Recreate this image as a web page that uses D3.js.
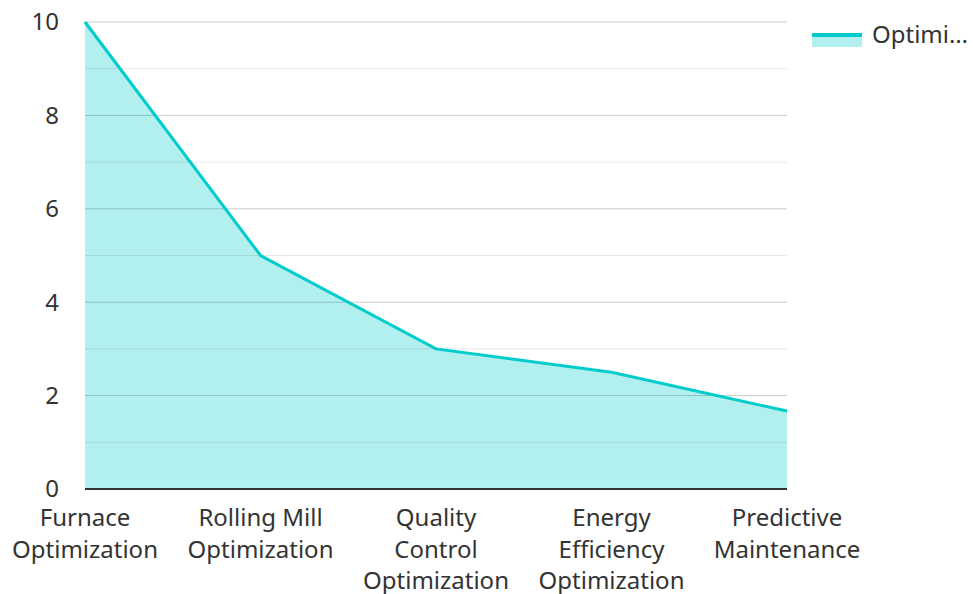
<!DOCTYPE html>
<html>
<head>
<meta charset="utf-8">
<script src="https://cdn.jsdelivr.net/npm/d3@7"></script>
<style>
  body { margin: 0; background: #fff; }
  text { font-family: "Noto Sans", "Open Sans", sans-serif; fill: #333; }
</style>
</head>
<body>
<div id="chart"></div>
<script>
// data
const categories = [
  "Furnace Optimization",
  "Rolling Mill Optimization",
  "Quality Control Optimization",
  "Energy Efficiency Optimization",
  "Predictive Maintenance"
];
const labelLines = [
  ["Furnace", "Optimization"],
  ["Rolling Mill", "Optimization"],
  ["Quality", "Control", "Optimization"],
  ["Energy", "Efficiency", "Optimization"],
  ["Predictive", "Maintenance"]
];
const values = [10, 5, 3, 2.5, 1.67];
const yTicks = [0, 2, 4, 6, 8, 10];
const seriesName = "Optimi…";

const W = 973, H = 594;
const margin = { top: 22, right: 186, bottom: 105, left: 85 };
const width = W - margin.left - margin.right,
  height = H - margin.top - margin.bottom;

const svg = d3.select("#chart")
  .append("svg")
  .attr("width", W)
  .attr("height", H)
  .append("g")
  .attr("transform", `translate(${margin.left},${margin.top})`);

const x = d3.scalePoint()
  .domain(categories)
  .range([0, width]);

const y = d3.scaleLinear()
  .domain([0, 10])
  .range([height, 0]);

const data = categories.map((c, i) => ({ cat: c, v: values[i] }));

// area + line
svg.append("path")
  .datum(data)
  .attr("fill", "rgba(0,204,204,0.3)")
  .attr("d", d3.area()
    .x(d => x(d.cat))
    .y0(y(0))
    .y1(d => y(d.v)));

// grid (drawn over the fill)
svg.append("g")
  .selectAll("line")
  .data(d3.range(1, 11))
  .enter()
  .append("line")
  .attr("x1", 0)
  .attr("x2", width)
  .attr("y1", d => y(d))
  .attr("y2", d => y(d))
  .attr("stroke", d => d % 2 === 0 ? "rgba(0,0,0,0.2)" : "rgba(0,0,0,0.09)")
  .attr("stroke-width", 1);

svg.append("path")
  .datum(data)
  .attr("fill", "none")
  .attr("stroke", "#00cccc")
  .attr("stroke-width", 3)
  .attr("d", d3.line()
    .x(d => x(d.cat))
    .y(d => y(d.v)));

// y axis labels
svg.append("g")
  .selectAll("text")
  .data(yTicks)
  .enter()
  .append("text")
  .attr("x", -26)
  .attr("y", d => y(d))
  .attr("dy", "0.35em")
  .attr("text-anchor", "end")
  .attr("font-size", "24px")
  .text(d => d);

// x axis line
svg.append("line")
  .attr("x1", 0)
  .attr("x2", width)
  .attr("y1", height)
  .attr("y2", height)
  .attr("stroke", "#333")
  .attr("stroke-width", 2);

// x labels
const xl = svg.append("g")
  .selectAll("text")
  .data(categories)
  .enter()
  .append("text")
  .attr("text-anchor", "middle")
  .attr("font-size", "24px")
  .attr("transform", d => `translate(${x(d)},${height + 37})`);

xl.selectAll("tspan")
  .data((d, i) => labelLines[i])
  .enter()
  .append("tspan")
  .attr("x", 0)
  .attr("y", (d, i) => i * 31.5)
  .text(d => d);

// legend
const lg = svg.append("g")
  .attr("transform", `translate(${width + 25}, 0)`);
lg.append("rect")
  .attr("x", 0).attr("y", 13)
  .attr("width", 50).attr("height", 12)
  .attr("fill", "rgba(0,204,204,0.3)");
lg.append("line")
  .attr("x1", 0).attr("x2", 50)
  .attr("y1", 13).attr("y2", 13)
  .attr("stroke", "#00cccc")
  .attr("stroke-width", 4);
lg.append("text")
  .attr("x", 60)
  .attr("y", 13)
  .attr("dy", "0.35em")
  .attr("font-size", "24px")
  .text(seriesName);
</script>
</body>
</html>
